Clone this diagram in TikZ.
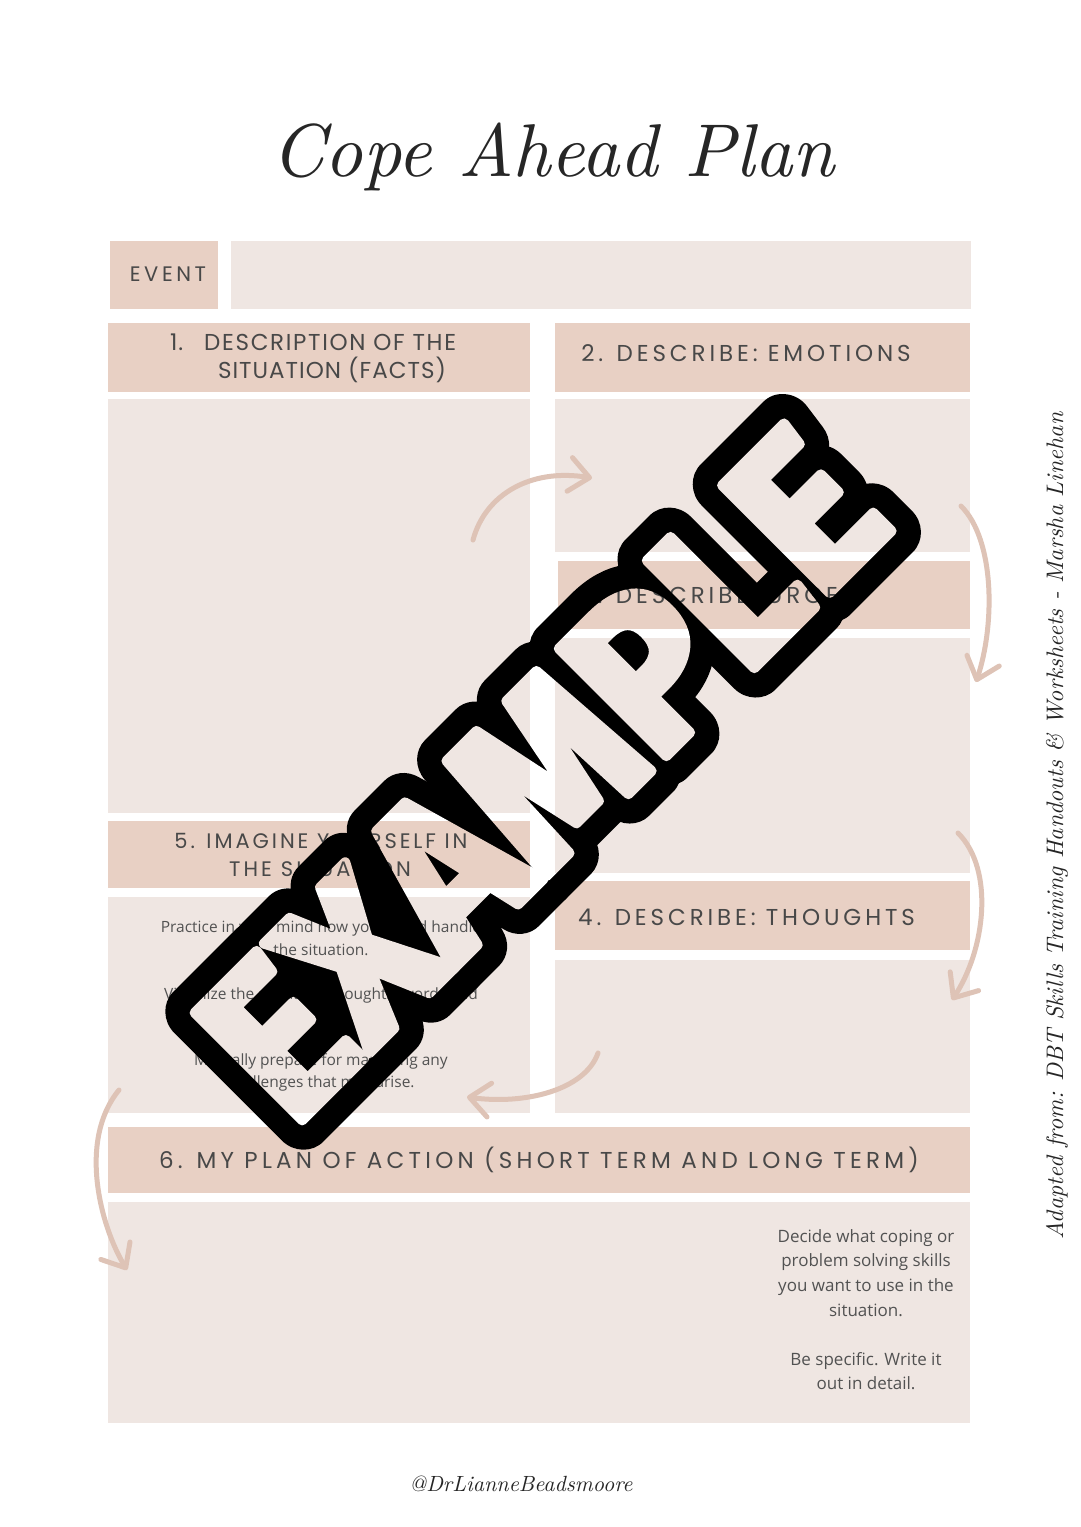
\documentclass[tikz,border=0pt]{standalone}
\usepackage{fontspec}
\usepackage{graphicx}
\usetikzlibrary{arrows.meta,fadings}
\setmainfont{Open Sans}
\newfontfamily\hfont{Poppins}
\newfontfamily\wmfont{Fira Sans}
\newfontfamily\handf{Latin Modern Roman}
\definecolor{hdr}{RGB}{232,208,196}
\definecolor{cnt}{RGB}{239,230,226}
\definecolor{arr}{RGB}{222,195,182}
\definecolor{htxt}{RGB}{72,72,72}
\definecolor{btxt}{RGB}{82,82,82}
\newcommand{\trk}[2]{{\addfontfeatures{LetterSpace=#1}#2}}
\newcommand{\wmbox}{\resizebox{855pt}{152pt}{\wmfont\bfseries\fontsize{220}{240}\selectfont EXAMPLE}}
\begin{document}
\begin{tikzpicture}[x=1pt,y=-1pt,
  hbox/.style={fill=hdr},
  cbox/.style={fill=cnt},
  htext/.style={inner sep=0pt, text=htxt, font=\hfont\fontsize{23}{28}\selectfont},
  btext/.style={inner sep=0pt, text=btxt, font=\fontsize{15.5}{23}\selectfont, anchor=base},
  ctext/.style={inner sep=0pt, text=btxt, font=\fontsize{17}{24}\selectfont, anchor=base},
  flow/.style={draw=arr, line width=5pt, line cap=round, -{Straight Barb[length=20pt,width=34pt,round]}},
  hand/.style={inner sep=0pt, text=black!85}
]
\useasboundingbox (0,0) rectangle (1080,1527);
\fill[white] (0,0) rectangle (1080,1527);

\node[inner sep=0pt] (fadedecl) at (0,0) {\begin{tikzfadingfrompicture}[name=wmfade]
  \path[use as bounding box] (-440pt,-440pt) rectangle (440pt,440pt);
  \node[rotate=45, inner sep=0pt, text=white] (wmo) at (0pt,0pt) {\special{pdf:literal direct 2 Tr 60 w 1 j 1 J 1 g 1 G}\wmbox\special{pdf:literal direct 0 Tr}};
  \node[rotate=45, inner sep=0pt, text=black] (wmi) at (0pt,0pt) {\special{pdf:literal direct 2 Tr 10 w 1 j 1 J 0 g 0 G}\wmbox\special{pdf:literal direct 0 Tr}};
\end{tikzfadingfrompicture}};

% title
\node[hand, anchor=base] (title) at (553,176) {\resizebox{563pt}{!}{\handf\itshape Cope Ahead Plan}};

% event row
\fill[hbox] (110,241) rectangle (218,309);
\fill[cbox] (231,241) rectangle (971,309);
\node[htext, anchor=base, font=\hfont\fontsize{21}{24}\selectfont] (ev) at (168,281) {\trk{17}{EVENT}};

% column headers and boxes
\fill[hbox] (108,323) rectangle (530,392);
\fill[hbox] (555,323) rectangle (970,392);
\fill[cbox] (108,399) rectangle (530,813);
\fill[cbox] (555,399) rectangle (970,552);
\fill[hbox] (558,561) rectangle (970,629);
\fill[cbox] (555,638) rectangle (970,873);
\fill[hbox] (555,881) rectangle (970,950);
\fill[cbox] (555,960) rectangle (970,1113);
\fill[hbox] (108,821) rectangle (530,888);
\fill[cbox] (108,897) rectangle (530,1113);
\fill[hbox] (108,1127) rectangle (970,1193);
\fill[cbox] (108,1202) rectangle (970,1423);

\node[htext, anchor=base west] (h1n) at (170,350) {\trk{3}{1.}};
\node[htext, anchor=base west] (h1a) at (204,350) {\trk{7.3}{DESCRIPTION OF THE}};
\node[htext, anchor=base] (h1b) at (332,378) {\trk{4.4}{SITUATION (FACTS)}};
\node[htext, anchor=base] (h2) at (746,361) {\trk{17}{2. DESCRIBE: EMOTIONS}};
\node[htext, anchor=base west] (h3) at (580,603) {\trk{17}{3. DESCRIBE: URGES}};
\node[htext, anchor=base west] (h4) at (578,925) {\trk{17}{4. DESCRIBE: THOUGHTS}};
\node[htext, anchor=base, font=\hfont\fontsize{21}{26}\selectfont] (h5a) at (321,848) {\trk{14}{5. IMAGINE YOURSELF IN}};
\node[htext, anchor=base, font=\hfont\fontsize{21}{26}\selectfont] (h5b) at (320,876) {\trk{15}{THE SITUATION}};
\node[htext, anchor=base] (h6) at (539,1168) {\trk{18.5}{6. MY PLAN OF ACTION (SHORT TERM AND LONG TERM)}};

% box 5 text
\node[btext] (p1) at (321,932) {Practice in your mind how you would handle};
\node[btext] (p2) at (321,955) {the situation.};
\node[btext] (p3) at (321,999) {Visualize the situation, thoughts, words and};
\node[btext] (p4) at (321,1065) {Mentally prepare for managing any};
\node[btext] (p5) at (321,1087) {challenges that may arise.};

% box 6 text
\node[ctext] (q1) at (866,1242) {Decide what coping or};
\node[ctext] (q2) at (866,1266) {problem solving skills};
\node[ctext] (q3) at (866,1291) {you want to use in the};
\node[ctext] (q4) at (866,1316) {situation.};
\node[ctext] (q5) at (866,1365) {Be specific. Write it};
\node[ctext] (q6) at (866,1389) {out in detail.};

% arrows
\coordinate (a1s) at (473,540); \coordinate (a1e) at (592,478);
\coordinate (a2s) at (961,506); \coordinate (a2e) at (976,682);
\coordinate (a3s) at (958,833); \coordinate (a3e) at (952,1000);
\coordinate (a4s) at (598,1053); \coordinate (a4e) at (467,1097);
\coordinate (a5s) at (119,1090); \coordinate (a5e) at (127,1270);
\draw[flow] (a1s) .. controls (485,495) and (530,468) .. (a1e);
\draw[flow] (a2s) .. controls (995,540) and (995,625) .. (a2e);
\draw[flow] (a3s) .. controls (995,870) and (985,950) .. (a3e);
\draw[flow] (a4s) .. controls (585,1090) and (525,1105) .. (a4e);
\draw[flow] (a5s) .. controls (78,1140) and (100,1225) .. (a5e);

% side note and footer
\node[hand, rotate=90, anchor=base] (src) at (1063,826) {\resizebox{827pt}{!}{\handf\itshape Adapted from: DBT Skills Training Handouts \& Worksheets - Marsha Linehan}};
\node[hand, anchor=base] (foot) at (521,1491) {\resizebox{223pt}{!}{\handf\itshape @DrLianneBeadsmoore}};

% watermark
\fill[black, path fading=wmfade, fit fading=false, fading transform={shift={(541,774)}}] (101,334) rectangle (981,1214);
\end{tikzpicture}
\end{document}
